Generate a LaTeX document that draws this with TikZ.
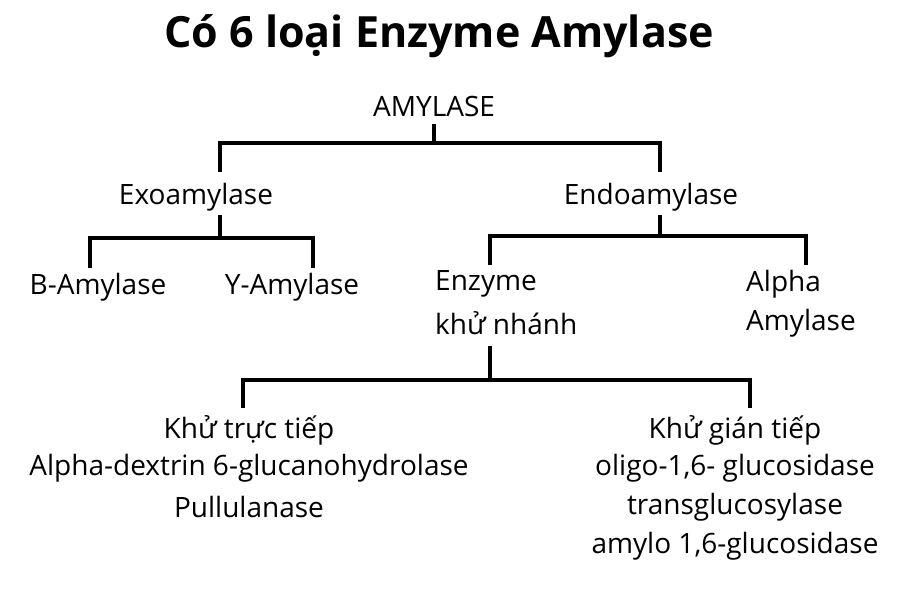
\documentclass[tikz,border=0pt]{standalone}
\usepackage{fontspec}
\setmainfont{Open Sans}
\begin{document}
\begin{tikzpicture}[x=1pt,y=-1pt,
  lbl/.style={inner sep=0pt,font=\fontsize{28}{32}\selectfont},
  br/.style={line width=4pt}]
\useasboundingbox (0,0) rectangle (900,600);
\node[inner sep=0pt,font=\fontsize{43}{46}\bfseries\selectfont] (title) at (439,36) {Có 6 loại Enzyme Amylase};
\node[lbl] (amy) at (434,106) {AMYLASE};
\node[lbl] (exo) at (196,197) {Exoamylase};
\node[lbl] (endo) at (651,197) {Endoamylase};
\node[lbl] (b) at (98,287) {B-Amylase};
\node[lbl] (y) at (292,287) {Y-Amylase};
\node[lbl,anchor=west] (ez1) at (435,284) {Enzyme};
\node[lbl,anchor=west] (ez2) at (435,323) {khử nhánh};
\node[lbl,anchor=west] (al1) at (746,284) {Alpha};
\node[lbl,anchor=west] (al2) at (746,323) {Amylase};
\node[lbl] (l1) at (249,430) {Khử trực tiếp};
\node[lbl] (l2) at (249,468) {Alpha-dextrin 6-glucanohydrolase};
\node[lbl] (l3) at (249,507) {Pullulanase};
\node[lbl] (r1) at (735,430) {Khử gián tiếp};
\node[lbl] (r2) at (735,468) {oligo-1,6- glucosidase};
\node[lbl] (r3) at (735,507) {transglucosylase};
\node[lbl] (r4) at (735,546) {amylo 1,6-glucosidase};
\coordinate (a1) at (434,124);
\coordinate (e1) at (220,215);
\coordinate (n1) at (660,215);
\coordinate (k1) at (490,346);
\draw[br] (a1) -- (434,143) (220,172) -- (220,143) -- (660,143) -- (660,172);
\draw[br] (e1) -- (220,238) (90,268) -- (90,238) -- (313,238) -- (313,268);
\draw[br] (n1) -- (660,236) (490,265) -- (490,236) -- (806,236) -- (806,265);
\draw[br] (k1) -- (490,380) (243,408) -- (243,380) -- (750,380) -- (750,408);
\end{tikzpicture}
\end{document}
